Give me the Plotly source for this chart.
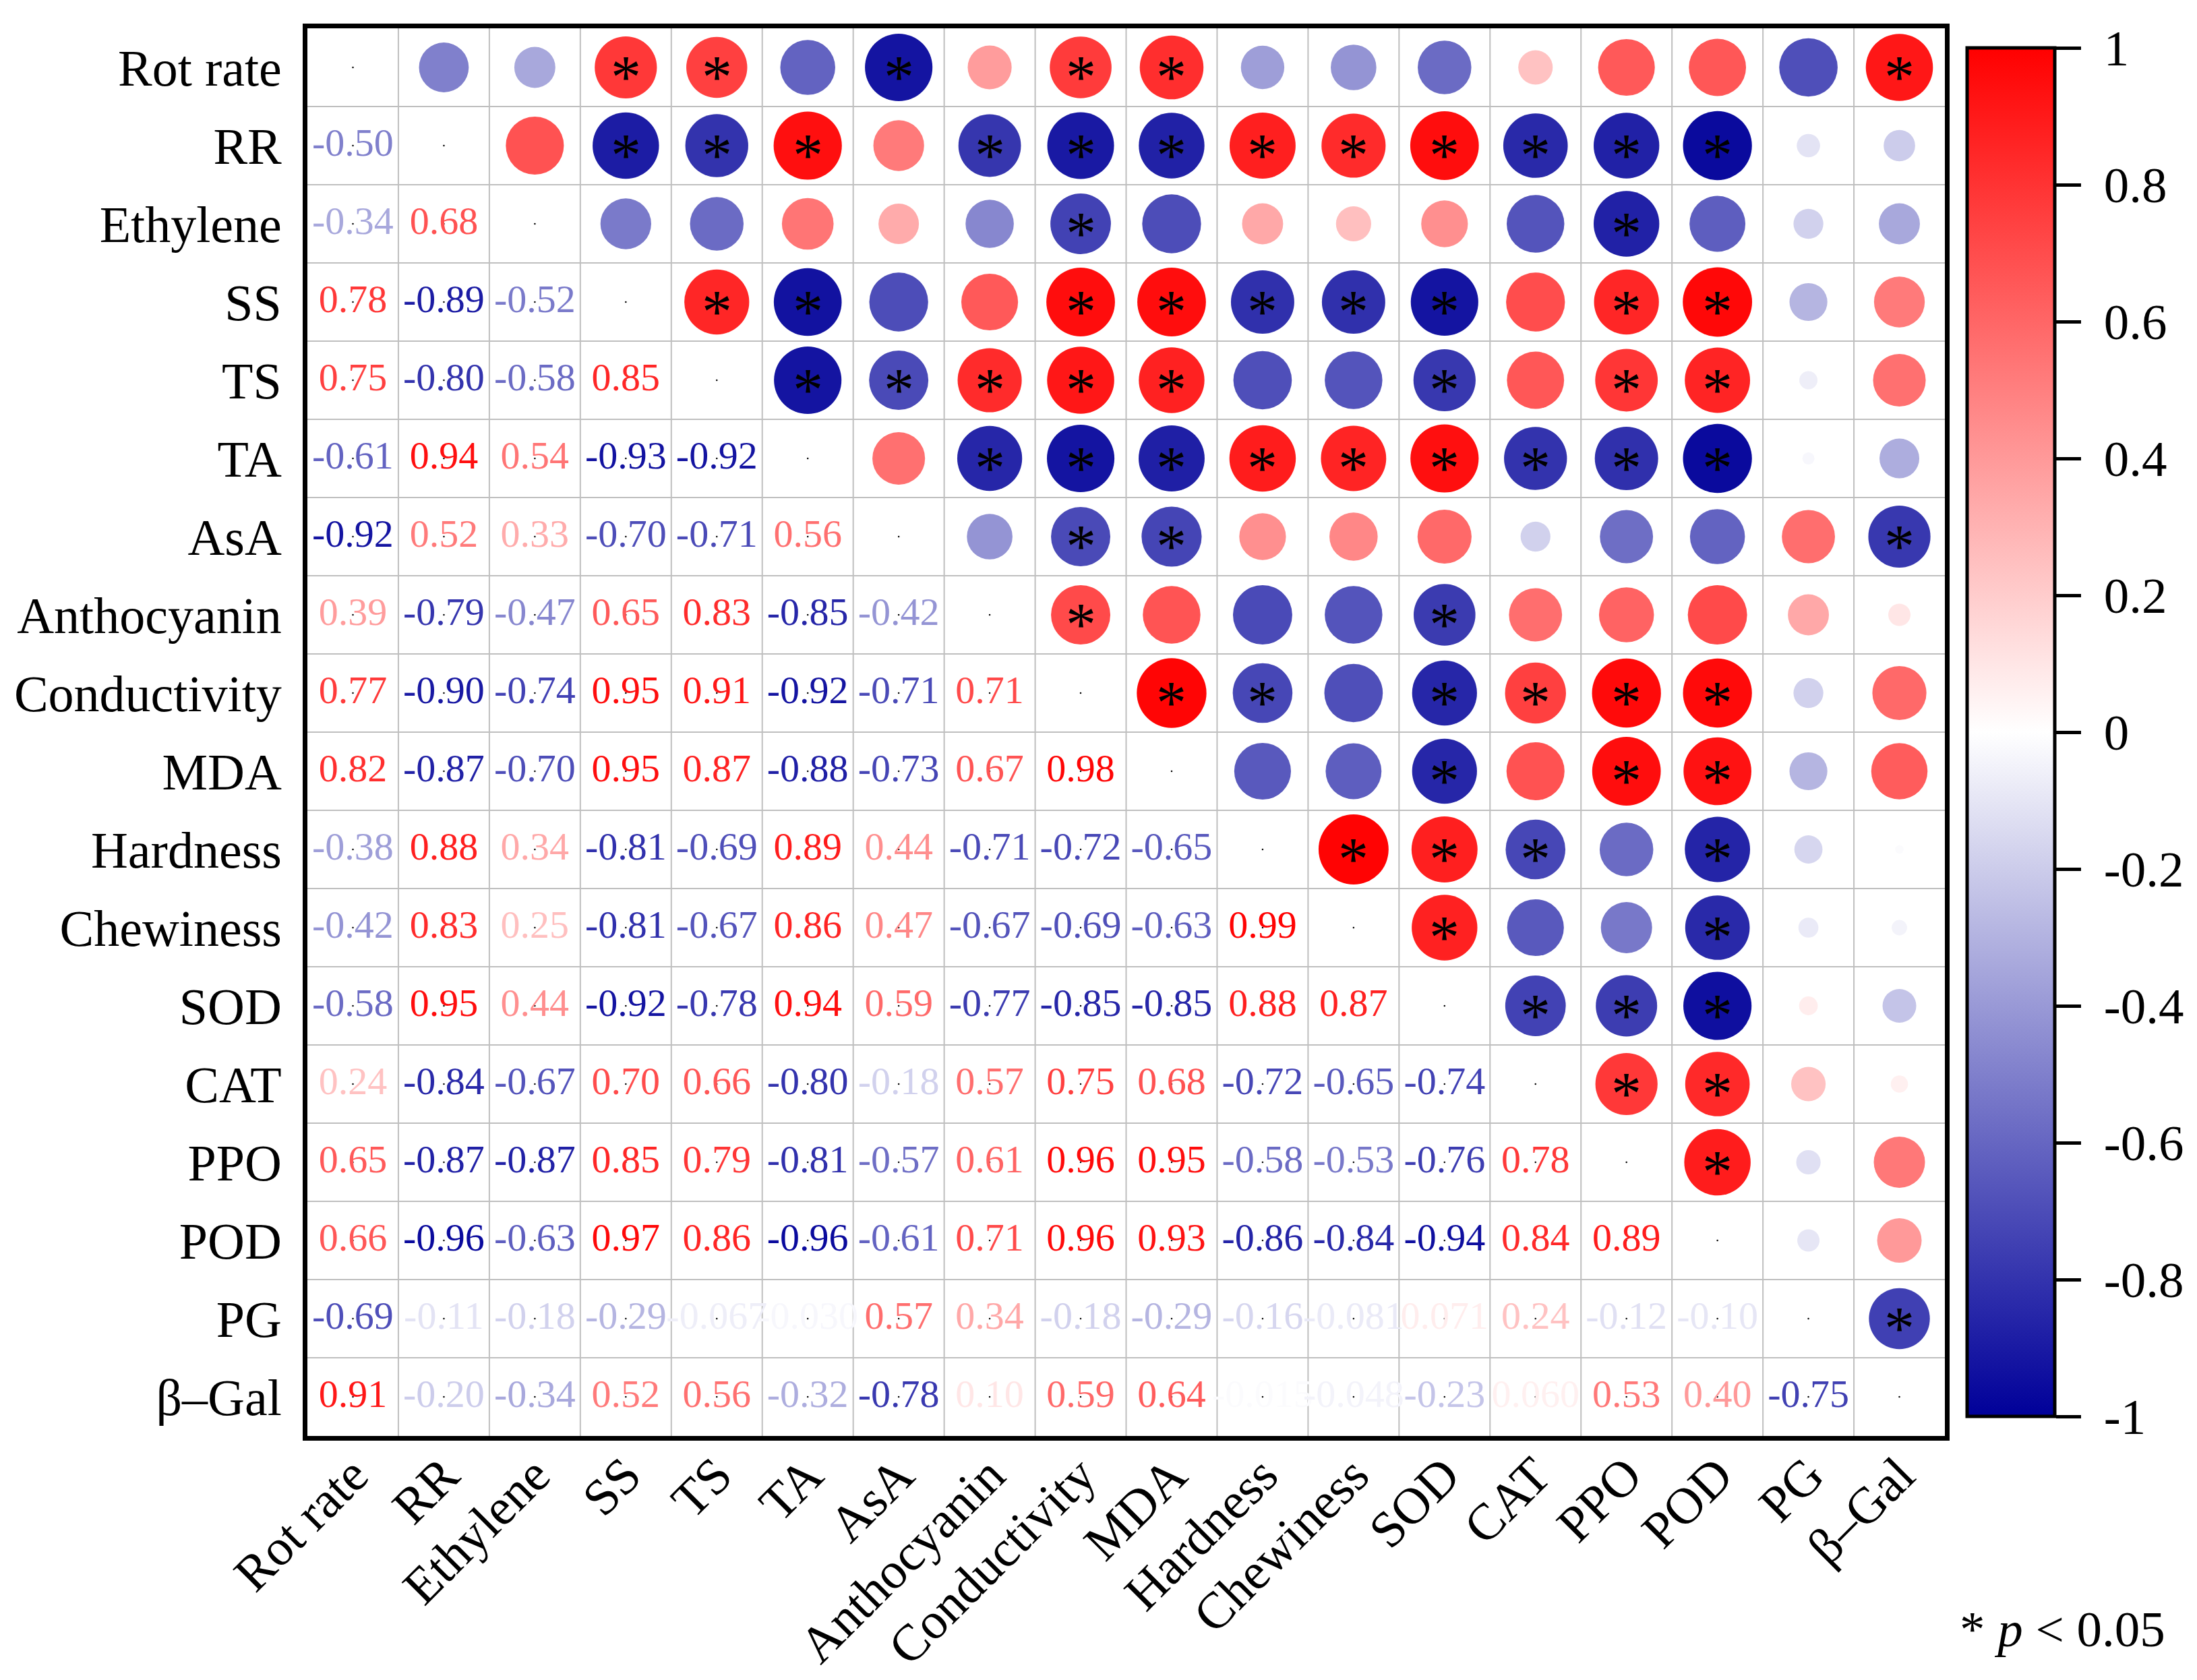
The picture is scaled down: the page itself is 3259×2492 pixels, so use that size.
import numpy as np
import plotly.graph_objects as go

names = ["Rot rate", "RR", "Ethylene", "SS", "TS", "TA", "AsA", "Anthocyanin",
         "Conductivity", "MDA", "Hardness", "Chewiness", "SOD", "CAT", "PPO",
         "POD", "PG", "β–Gal"]

# lower-triangle correlation coefficients (row i, columns 0..i-1)
lower = [
    [],
    [-0.50],
    [-0.34, 0.68],
    [0.78, -0.89, -0.52],
    [0.75, -0.80, -0.58, 0.85],
    [-0.61, 0.94, 0.54, -0.93, -0.92],
    [-0.92, 0.52, 0.33, -0.70, -0.71, 0.56],
    [0.39, -0.79, -0.47, 0.65, 0.83, -0.85, -0.42],
    [0.77, -0.90, -0.74, 0.95, 0.91, -0.92, -0.71, 0.71],
    [0.82, -0.87, -0.70, 0.95, 0.87, -0.88, -0.73, 0.67, 0.98],
    [-0.38, 0.88, 0.34, -0.81, -0.69, 0.89, 0.44, -0.71, -0.72, -0.65],
    [-0.42, 0.83, 0.25, -0.81, -0.67, 0.86, 0.47, -0.67, -0.69, -0.63, 0.99],
    [-0.58, 0.95, 0.44, -0.92, -0.78, 0.94, 0.59, -0.77, -0.85, -0.85, 0.88, 0.87],
    [0.24, -0.84, -0.67, 0.70, 0.66, -0.80, -0.18, 0.57, 0.75, 0.68, -0.72, -0.65, -0.74],
    [0.65, -0.87, -0.87, 0.85, 0.79, -0.81, -0.57, 0.61, 0.96, 0.95, -0.58, -0.53, -0.76, 0.78],
    [0.66, -0.96, -0.63, 0.97, 0.86, -0.96, -0.61, 0.71, 0.96, 0.93, -0.86, -0.84, -0.94, 0.84, 0.89],
    [-0.69, -0.11, -0.18, -0.29, -0.067, -0.030, 0.57, 0.34, -0.18, -0.29, -0.16, -0.081, 0.071, 0.24, -0.12, -0.10],
    [0.91, -0.20, -0.34, 0.52, 0.56, -0.32, -0.78, 0.10, 0.59, 0.64, -0.015, -0.048, -0.23, 0.060, 0.53, 0.40, -0.75],
]

# significant pairs (p < 0.05): upper-row variable -> list of column variables
sig_pairs = {
    "Rot rate": ["SS", "TS", "AsA", "Conductivity", "MDA", "β–Gal"],
    "RR": ["SS", "TS", "TA", "Anthocyanin", "Conductivity", "MDA", "Hardness",
           "Chewiness", "SOD", "CAT", "PPO", "POD"],
    "Ethylene": ["Conductivity", "PPO"],
    "SS": ["TS", "TA", "Conductivity", "MDA", "Hardness", "Chewiness", "SOD", "PPO", "POD"],
    "TS": ["TA", "AsA", "Anthocyanin", "Conductivity", "MDA", "SOD", "PPO", "POD"],
    "TA": ["Anthocyanin", "Conductivity", "MDA", "Hardness", "Chewiness", "SOD", "CAT", "PPO", "POD"],
    "AsA": ["Conductivity", "MDA", "β–Gal"],
    "Anthocyanin": ["Conductivity", "SOD"],
    "Conductivity": ["MDA", "Hardness", "SOD", "CAT", "PPO", "POD"],
    "MDA": ["SOD", "PPO", "POD"],
    "Hardness": ["Chewiness", "SOD", "CAT", "POD"],
    "Chewiness": ["SOD", "POD"],
    "SOD": ["CAT", "PPO", "POD"],
    "CAT": ["PPO", "POD"],
    "PPO": ["POD"],
    "PG": ["β–Gal"],
}

cbar_vals = [1, 0.8, 0.6, 0.4, 0.2, 0, -0.2, -0.4, -0.6, -0.8, -1]
cbar_text = ["1", "0.8", "0.6", "0.4", "0.2", "0", "-0.2", "-0.4", "-0.6", "-0.8", "-1"]

# ---------------- styling ----------------
FONT = "Liberation Serif"
W, H = 3259, 2492
ML, MR, MT, MB = 456, 374, 42, 362
BLUE = np.array([0, 0, 153.0])
WHITE = np.array([255, 255, 255.0])
RED = np.array([255, 0, 0.0])
colorscale = [[0.0, "rgb(0,0,153)"], [0.5, "rgb(255,255,255)"], [1.0, "rgb(255,0,0)"]]


def to_color(v):
    if v < 0:
        c = BLUE + (WHITE - BLUE) * (v + 1)
    else:
        c = WHITE + (RED - WHITE) * v
    return "rgb(%d,%d,%d)" % tuple(np.round(c).astype(int))


def fmt(v):
    s = f"{v:.3f}" if (abs(v) < 0.1 and v != 0) else f"{v:.2f}"
    return s.replace("−", "-")


n = len(names)
R = np.eye(n)
for i, row in enumerate(lower):
    for j, v in enumerate(row):
        R[i, j] = v
        R[j, i] = v
idx = {nm: k for k, nm in enumerate(names)}

cell_h = (H - MT - MB) / n

# upper triangle circles
cx, cy, cv, cs = [], [], [], []
for i in range(n):
    for j in range(i + 1, n):
        cx.append(j); cy.append(i); cv.append(R[i, j])
        cs.append(0.9 * cell_h * np.sqrt(abs(R[i, j])))

# lower triangle numbers
tx, ty, tt, tc = [], [], [], []
for i in range(n):
    for j in range(i):
        tx.append(j); ty.append(i); tt.append(fmt(R[i, j])); tc.append(to_color(R[i, j]))

# tiny center dots
dx = [j for i in range(n) for j in range(n)]
dy = [i for i in range(n) for j in range(n)]

fig = go.Figure()
fig.add_trace(go.Scatter(x=dx, y=dy, mode="markers",
                         marker=dict(size=2.5, color="black", line=dict(width=0)),
                         hoverinfo="skip", showlegend=False))
fig.add_trace(go.Scatter(
    x=cx, y=cy, mode="markers",
    marker=dict(size=cs, color=cv, colorscale=colorscale, cmin=-1, cmax=1,
                line=dict(width=0), opacity=1,
                showscale=True,
                colorbar=dict(
                    thickness=130, len=0.972, lenmode="fraction",
                    y=0.5, yanchor="middle", x=1.0135, xanchor="left",
                    xpad=0, ypad=0, outlinewidth=5, outlinecolor="black",
                    ticks="outside", ticklen=37, tickwidth=5, tickcolor="black",
                    tickvals=cbar_vals, ticktext=["\u00a0" + t for t in cbar_text],
                    tickfont=dict(size=75, family=FONT, color="black"),
                )),
    showlegend=False, hoverinfo="skip"))
fig.add_trace(go.Scatter(x=tx, y=ty, mode="text", text=tt,
                         textposition="middle center",
                         textfont=dict(size=58, family=FONT, color=tc),
                         showlegend=False, hoverinfo="skip"))

annotations = []
for a, cols in sig_pairs.items():
    for b in cols:
        i, j = idx[a], idx[b]
        annotations.append(dict(x=j, y=i, xref="x", yref="y", text="*", showarrow=False,
                                font=dict(size=90, family=FONT, color="black"),
                                xanchor="center", yanchor="middle", yshift=-14))
annotations.append(dict(x=1.1355, y=-0.137, xref="paper", yref="paper",
                        text="* <i>p</i> &lt; 0.05", showarrow=False,
                        xanchor="right", yanchor="middle",
                        font=dict(size=75, family=FONT, color="black")))

shapes = []
for k in range(n - 1):
    shapes.append(dict(type="line", xref="x", yref="paper", x0=k + 0.5, x1=k + 0.5, y0=0, y1=1,
                       line=dict(color="#BFBFBF", width=2), layer="below"))
    shapes.append(dict(type="line", xref="paper", yref="y", x0=0, x1=1, y0=k + 0.5, y1=k + 0.5,
                       line=dict(color="#BFBFBF", width=2), layer="below"))

fig.update_layout(
    width=W, height=H,
    margin=dict(l=ML, r=MR, t=MT, b=MB, pad=0, autoexpand=False),
    paper_bgcolor="white", plot_bgcolor="white",
    font=dict(family=FONT, color="black"),
    annotations=annotations, shapes=shapes,
    xaxis=dict(range=[-0.5, n - 0.5], tickvals=list(range(n)), ticktext=names,
               tickangle=-45, tickfont=dict(size=76, family=FONT, color="black"),
               showgrid=False, zeroline=False, showline=True, linewidth=7,
               linecolor="black", mirror=True, ticks="", ticklabelstandoff=-24,
               automargin=False),
    yaxis=dict(range=[n - 0.5, -0.5], tickvals=list(range(n)), ticktext=names,
               tickfont=dict(size=76, family=FONT, color="black"),
               showgrid=False, zeroline=False, showline=True, linewidth=7,
               linecolor="black", mirror=True, ticks="", ticklabelstandoff=16,
               automargin=False),
)

fig.write_html("out.html")
